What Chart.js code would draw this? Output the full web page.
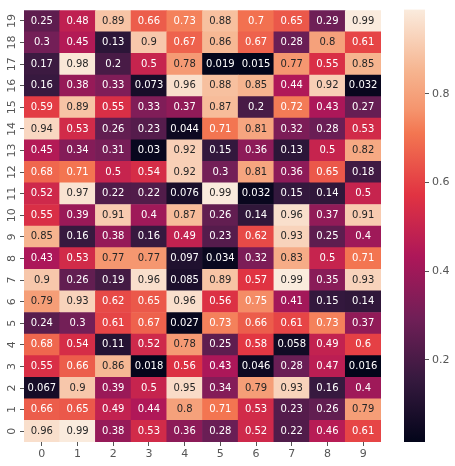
<!DOCTYPE html>
<html>
<head>
<meta charset="utf-8">
<script src="https://cdn.jsdelivr.net/npm/chart.js@4"></script>
<style>
  body { margin: 0; background: #fff; }
  #wrap { position: relative; width: 455px; height: 466px; }
  #heat { position: absolute; left: 0; top: 0; }
  #cbar { position: absolute; left: 395px; top: 0; }
</style>
</head>
<body>
<div id="wrap">
  <canvas id="heat" width="385" height="466"></canvas>
  <canvas id="cbar" width="60" height="466"></canvas>
</div>
<script>
// columns (x) and rows (y, row 0 at the bottom)
const xLabels = ["0", "1", "2", "3", "4", "5", "6", "7", "8", "9"];
const yLabels = ["0", "1", "2", "3", "4", "5", "6", "7", "8", "9",
  "10", "11", "12", "13", "14", "15", "16", "17", "18", "19"];

// one array per row
const row0  = [0.96, 0.99, 0.38, 0.53, 0.36, 0.28, 0.52, 0.22, 0.46, 0.61];
const row1  = [0.66, 0.65, 0.49, 0.44, 0.8, 0.71, 0.53, 0.23, 0.26, 0.79];
const row2  = [0.067, 0.9, 0.39, 0.5, 0.95, 0.34, 0.79, 0.93, 0.16, 0.4];
const row3  = [0.55, 0.66, 0.86, 0.018, 0.56, 0.43, 0.046, 0.28, 0.47, 0.016];
const row4  = [0.68, 0.54, 0.11, 0.52, 0.78, 0.25, 0.58, 0.058, 0.49, 0.6];
const row5  = [0.24, 0.3, 0.61, 0.67, 0.027, 0.73, 0.66, 0.61, 0.73, 0.37];
const row6  = [0.79, 0.93, 0.62, 0.65, 0.96, 0.56, 0.75, 0.41, 0.15, 0.14];
const row7  = [0.9, 0.26, 0.19, 0.96, 0.085, 0.89, 0.57, 0.99, 0.35, 0.93];
const row8  = [0.43, 0.53, 0.77, 0.77, 0.097, 0.034, 0.32, 0.83, 0.5, 0.71];
const row9  = [0.85, 0.16, 0.38, 0.16, 0.49, 0.23, 0.62, 0.93, 0.25, 0.4];
const row10 = [0.55, 0.39, 0.91, 0.4, 0.87, 0.26, 0.14, 0.96, 0.37, 0.91];
const row11 = [0.52, 0.97, 0.22, 0.22, 0.076, 0.99, 0.032, 0.15, 0.14, 0.5];
const row12 = [0.68, 0.71, 0.5, 0.54, 0.92, 0.3, 0.81, 0.36, 0.65, 0.18];
const row13 = [0.45, 0.34, 0.31, 0.03, 0.92, 0.15, 0.36, 0.13, 0.5, 0.82];
const row14 = [0.94, 0.53, 0.26, 0.23, 0.044, 0.71, 0.81, 0.32, 0.28, 0.53];
const row15 = [0.59, 0.89, 0.55, 0.33, 0.37, 0.87, 0.2, 0.72, 0.43, 0.27];
const row16 = [0.16, 0.38, 0.33, 0.073, 0.96, 0.88, 0.85, 0.44, 0.92, 0.032];
const row17 = [0.17, 0.98, 0.2, 0.5, 0.78, 0.019, 0.015, 0.77, 0.55, 0.85];
const row18 = [0.3, 0.45, 0.13, 0.9, 0.67, 0.86, 0.67, 0.28, 0.8, 0.61];
const row19 = [0.25, 0.48, 0.89, 0.66, 0.73, 0.88, 0.7, 0.65, 0.29, 0.99];
const rows = [row0, row1, row2, row3, row4, row5, row6, row7, row8, row9,
  row10, row11, row12, row13, row14, row15, row16, row17, row18, row19];

const colorbarTicks = [0.2, 0.4, 0.6, 0.8];

const allVals = rows.flat();
const vmin = Math.min(...allVals);
const vmax = Math.max(...allVals);

// seaborn "rocket" colormap, approximated with a few stops
const rocket = [
  [0, [3, 5, 26]],
  [1 / 7, [53, 25, 62]],
  [2 / 7, [112, 31, 87]],
  [3 / 7, [173, 23, 89]],
  [4 / 7, [225, 51, 66]],
  [5 / 7, [243, 118, 81]],
  [0.77, [245, 149, 110]],
  [6 / 7, [246, 180, 143]],
  [1, [250, 235, 221]],
];

function rocketRgb(t) {
  t = Math.max(0, Math.min(1, t));
  for (let i = 1; i < rocket.length; i++) {
    if (t <= rocket[i][0]) {
      const [t0, c0] = rocket[i - 1];
      const [t1, c1] = rocket[i];
      const f = (t - t0) / (t1 - t0);
      return c0.map((c, k) => Math.round(c + (c1[k] - c) * f));
    }
  }
  return rocket[rocket.length - 1][1];
}

function cellColor(v) {
  const c = rocketRgb((v - vmin) / (vmax - vmin));
  return `rgb(${c[0]},${c[1]},${c[2]})`;
}

// same rule seaborn uses to pick the annotation colour
function textColor(v) {
  const c = rocketRgb((v - vmin) / (vmax - vmin)).map(x => {
    x = x / 255;
    return x <= 0.03928 ? x / 12.92 : Math.pow((x + 0.055) / 1.055, 2.4);
  });
  const lum = 0.2126 * c[0] + 0.7152 * c[1] + 0.0722 * c[2];
  return lum > 0.408 ? "#262626" : "#ffffff";
}

function fmt(v) {
  return String(Number(v.toPrecision(2)));
}

const tickColor = "#555555";
const fontFamily = "'DejaVu Sans', sans-serif";

// writes the value in each cell and the rotated row labels
const annotate = {
  id: "annotate",
  afterDatasetsDraw(chart) {
    const ctx = chart.ctx;
    ctx.save();
    ctx.font = `10px ${fontFamily}`;
    ctx.textAlign = "center";
    ctx.textBaseline = "middle";
    chart.data.datasets.forEach((ds, r) => {
      const meta = chart.getDatasetMeta(r);
      meta.data.forEach((bar, c) => {
        const v = rows[r][c];
        ctx.fillStyle = textColor(v);
        ctx.fillText(fmt(v), bar.x, (bar.y + bar.base) / 2);
      });
    });

    const yScale = chart.scales.y;
    ctx.font = `11px ${fontFamily}`;
    ctx.fillStyle = tickColor;
    yLabels.forEach((lab, i) => {
      const py = yScale.getPixelForValue(i + 0.5);
      ctx.save();
      ctx.translate(yScale.right - 12, py);
      ctx.rotate(-Math.PI / 2);
      ctx.fillText(lab, 0, 0);
      ctx.restore();
    });
    ctx.restore();
  }
};

new Chart(document.getElementById("heat"), {
  type: "bar",
  data: {
    labels: xLabels,
    datasets: rows.map((vals, r) => ({
      label: yLabels[r],
      data: vals.map(() => 1),
      backgroundColor: vals.map(cellColor),
      borderWidth: 0,
      barPercentage: 1,
      categoryPercentage: 1,
      stack: "cells",
    })),
  },
  options: {
    responsive: false,
    devicePixelRatio: 1,
    animation: false,
    layout: { padding: { top: 7, right: 4, left: 0, bottom: 0 } },
    plugins: { legend: { display: false }, tooltip: { enabled: false } },
    scales: {
      x: {
        stacked: true,
        grid: { offset: false, drawOnChartArea: false, drawTicks: true, tickLength: 4, color: tickColor },
        border: { display: false },
        ticks: { color: tickColor, font: { family: fontFamily, size: 11 }, padding: 2 },
        afterFit(scale) { scale.height = 24; },
      },
      y: {
        stacked: true,
        min: 0,
        max: yLabels.length,
        grid: { drawOnChartArea: false, drawTicks: true, tickLength: 4, color: tickColor },
        border: { display: false },
        afterBuildTicks(scale) {
          scale.ticks = yLabels.map((_, i) => ({ value: i + 0.5 }));
        },
        ticks: { callback: () => "" },
        afterFit(scale) { scale.width = 24; },
      },
    },
  },
  plugins: [annotate],
});

// colour bar
new Chart(document.getElementById("cbar"), {
  type: "bar",
  data: {
    labels: [""],
    datasets: [{
      data: [[vmin, vmax]],
      borderWidth: 0,
      barPercentage: 1,
      categoryPercentage: 1,
      backgroundColor(context) {
        const chart = context.chart;
        if (!chart.chartArea) return "#000";
        const y = chart.scales.y;
        const g = chart.ctx.createLinearGradient(0, y.getPixelForValue(vmin), 0, y.getPixelForValue(vmax));
        rocket.forEach(([t, c]) => g.addColorStop(t, `rgb(${c[0]},${c[1]},${c[2]})`));
        return g;
      },
    }],
  },
  options: {
    responsive: false,
    devicePixelRatio: 1,
    animation: false,
    layout: { padding: { top: 7, bottom: 24, left: 9, right: 0 } },
    plugins: { legend: { display: false }, tooltip: { enabled: false } },
    scales: {
      x: { display: false },
      y: {
        position: "right",
        min: vmin,
        max: vmax,
        grid: { drawOnChartArea: false, drawTicks: true, tickLength: 4, color: tickColor },
        border: { display: false },
        afterBuildTicks(scale) {
          scale.ticks = colorbarTicks.map(v => ({ value: v }));
        },
        ticks: {
          color: tickColor,
          font: { family: fontFamily, size: 11 },
          padding: 3,
          callback: v => String(v),
        },
        afterFit(scale) { scale.width = 30; },
      },
    },
  },
});
</script>
</body>
</html>
